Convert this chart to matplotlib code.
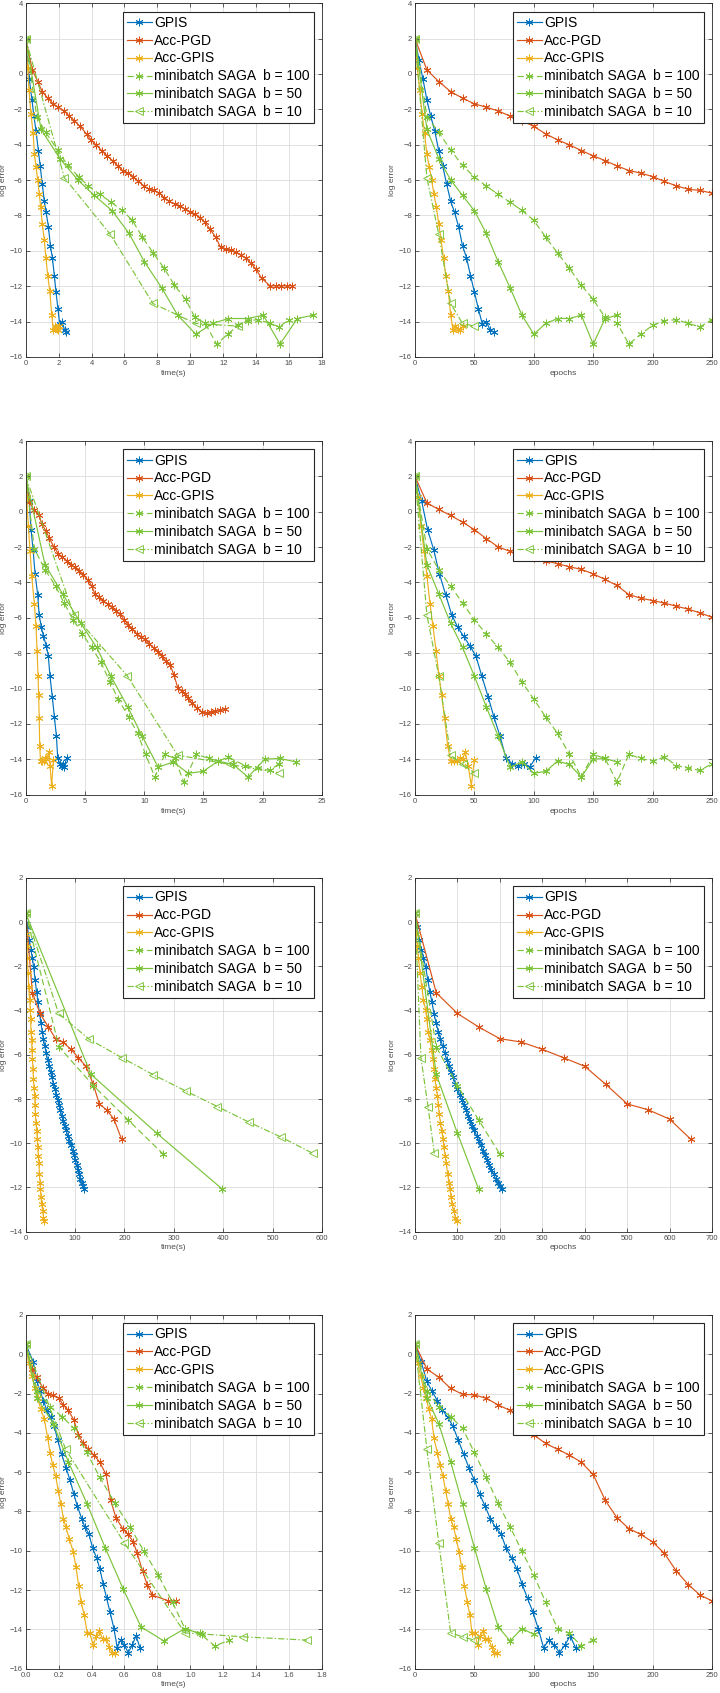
import matplotlib
matplotlib.use('Agg')
import matplotlib.pyplot as plt

plt.rcParams['font.family'] = ['Liberation Sans', 'DejaVu Sans']
plt.rcParams['lines.scale_dashes'] = False

C_GPIS = '#0072BD'
C_PGD = '#D95319'
C_AGPIS = '#EDB120'
C_SAGA = '#7CC43A'

LABELS = ['GPIS', 'Acc-PGD', 'Acc-GPIS', 'minibatch SAGA  b = 100',
          'minibatch SAGA  b = 50', 'minibatch SAGA  b = 10']

# ---------------- problem a (row 1) ----------------
a_gpis_t = [0, 0.1, 0.22, 0.38, 0.5, 0.63, 0.77, 0.88, 1.01, 1.13, 1.24, 1.38, 1.5, 1.62, 1.74, 1.84, 1.96, 2.06, 2.2, 2.37, 2.45]
a_gpis_ep = [0, 3.3, 6.7, 10, 13.3, 16.7, 20, 23.3, 26.7, 30, 33.3, 36.7, 40, 43.3, 46.7, 50, 53.3, 56.7, 60, 63.3, 66.7]
a_gpis_y = [2.0, 0.8, -0.3, -1.47, -2.4, -3.25, -4.35, -5.2, -6.25, -7.2, -7.83, -8.64, -9.72, -10.38, -11.4, -12.34, -13.28, -14.15, -14.0, -14.5, -14.6]

a_pgd_t = [0, 0.4, 0.73, 1.01, 1.34, 1.68, 1.98, 2.33, 2.65, 2.96, 3.3, 3.7, 3.97, 4.27, 4.62, 4.94, 5.28, 5.59, 5.89, 6.23,
           6.54, 6.84, 7.19, 7.49, 7.81, 8.12, 8.42, 8.72, 9.07, 9.37, 9.68, 9.98, 10.28, 10.59, 10.89, 11.19, 11.54, 11.84, 12.15, 12.45,
           12.77, 13.08, 13.38, 13.68, 13.99, 14.33, 14.84, 15.18, 15.5, 15.85, 16.17]
a_pgd_y = [2.0, 0.23, -0.43, -1.0, -1.37, -1.69, -1.88, -2.09, -2.38, -2.64, -2.97, -3.39, -3.73, -4.01, -4.33, -4.63, -4.9, -5.2, -5.46, -5.61,
           -5.8, -6.08, -6.33, -6.52, -6.59, -6.74, -6.99, -7.21, -7.35, -7.46, -7.63, -7.78, -7.93, -8.12, -8.4, -8.76, -9.23, -9.8, -9.9, -9.98,
           -10.08, -10.23, -10.42, -10.7, -11.04, -11.55, -11.98, -11.98, -11.98, -11.98, -11.98]
a_pgd_ep = [0, 10, 20, 30, 40, 50, 60, 70, 80, 90, 100, 110, 120, 130, 140, 150, 160, 170, 180, 190, 200, 210, 220, 230, 240, 250]

a_agpis_t = [0, 0.12, 0.2, 0.32, 0.45, 0.53, 0.63, 0.73, 0.83, 0.91, 1.01, 1.13, 1.23, 1.34, 1.46, 1.58, 1.68, 1.78, 1.88, 1.96, 2.04]
a_agpis_ep = [0, 2, 4, 6, 8, 10, 12, 14, 16, 18, 20, 22, 24, 26, 28, 30, 32, 34, 36, 38, 40]
a_agpis_y = [2.0, 0.32, -0.9, -2.28, -3.32, -4.55, -5.25, -6.02, -6.81, -7.55, -8.49, -9.4, -10.43, -11.43, -12.25, -13.62, -14.5, -14.26, -14.4, -14.5, -14.26]

a_s100_t = [0, 0.67, 1.21, 1.94, 2.55, 3.24, 3.81, 4.51, 5.18, 5.87, 6.48, 7.09, 7.75, 8.42, 9.03, 9.72, 10.28, 10.89, 11.6, 12.27, 12.92, 13.48, 14.13, 14.84, 15.4, 16.0]
a_s100_ep = [0, 10, 20, 30, 40, 50, 60, 70, 80, 90, 100, 110, 120, 130, 140, 150, 160, 170, 180, 190, 200, 210, 220, 230, 240, 250]
a_s100_y = [2.0, -2.41, -3.3, -4.3, -5.17, -5.83, -6.34, -6.81, -7.25, -7.72, -8.28, -9.23, -10.13, -11.0, -11.94, -12.75, -13.77, -14.08, -15.28, -14.72, -14.21, -13.96, -13.89, -14.11, -14.3, -13.89]

a_s50_t = [0, 0.93, 2.08, 3.16, 4.17, 5.26, 6.28, 7.21, 8.26, 9.23, 10.34, 11.36, 12.31, 13.48, 14.43, 15.45, 16.5, 17.47]
a_s50_ep = [0, 10, 20, 30, 40, 50, 60, 70, 80, 90, 100, 110, 120, 130, 140, 150, 160, 170]
a_s50_y = [2.0, -3.13, -4.79, -5.99, -6.87, -7.74, -9.02, -10.62, -12.09, -13.64, -14.72, -14.11, -13.83, -13.83, -13.64, -15.28, -13.83, -13.64]

a_s10_t = [0, 2.35, 5.14, 7.73, 10.32, 12.9]
a_s10_ep = [0, 10, 20, 30, 40, 50]
a_s10_y = [2.0, -5.87, -9.07, -12.98, -14.11, -14.26]

# ---------------- problem b (row 2) ----------------
b_gpis_t = [0, 0.3, 0.45, 0.62, 0.79, 1.01, 1.13, 1.32, 1.5, 1.74, 1.91, 2.05, 2.25, 2.42, 2.59, 2.7, 2.87, 3.04, 3.15, 3.26, 3.46]
b_gpis_ep = [0, 5.6, 10.6, 15.7, 20.5, 25.8, 30.8, 35.9, 40.9, 46.2, 51.3, 56.3, 61.7, 66.4, 71.5, 76.5, 81.6, 86.6, 91.6, 96.7, 101.7]
b_gpis_y = [2.0, 0.6, -1.01, -2.14, -3.5, -4.69, -5.81, -6.53, -7.04, -7.59, -8.16, -9.31, -10.5, -11.6, -12.68, -13.91, -14.24, -14.39, -14.24, -14.42, -13.91]

b_pgd_t = [0, 0.28, 0.73, 1.13, 1.35, 1.69, 1.97, 2.36, 2.76, 3.09, 3.46, 3.8, 4.16, 4.5, 4.87, 5.23, 5.57, 5.85, 6.19, 6.55,
           6.92, 7.26, 7.6, 7.96, 8.33, 8.66, 9.0, 9.37, 9.73, 10.07, 10.41, 10.86, 11.14, 11.48, 11.81, 12.18, 12.52, 12.83, 13.16, 13.45,
           13.73, 14.01, 14.43, 14.85, 15.27, 15.64, 16.0, 16.38, 16.8]
b_pgd_y = [2.0, 0.55, 0.08, -0.2, -0.68, -1.06, -1.47, -1.97, -2.38, -2.57, -2.76, -2.99, -3.14, -3.33, -3.56, -3.86, -4.18, -4.66, -4.84, -5.03,
           -5.22, -5.41, -5.6, -5.79, -6.13, -6.4, -6.64, -6.89, -7.08, -7.21, -7.46, -7.72, -7.91, -8.16, -8.44, -8.67, -9.24, -9.96, -10.14, -10.33,
           -10.56, -10.81, -11.09, -11.32, -11.39, -11.32, -11.25, -11.19, -11.14]
b_pgd_ep = [0, 10, 20, 30, 40, 50, 60, 70, 80, 90, 100, 110, 120, 130, 140, 150, 160, 170, 180, 190, 200, 210, 220, 230, 240, 250]
b_pgd_ep_y = [2.0, 0.5, 0.13, -0.21, -0.59, -1.01, -1.52, -1.99, -2.24, -2.47, -2.62, -2.77, -2.94, -3.11, -3.26, -3.51, -3.83, -4.17, -4.68, -4.89,
              -5.02, -5.17, -5.34, -5.51, -5.72, -5.97]

b_agpis_t = [0, 0.08, 0.22, 0.37, 0.51, 0.73, 0.87, 0.96, 1.04, 1.09, 1.14, 1.18, 1.25, 1.4, 1.55, 1.65, 1.75, 1.97, 2.05, 2.19, 2.33]
b_agpis_ep = [0, 2.5, 5, 7.6, 10.1, 12.6, 15.1, 17.7, 20.2, 22.4, 24.9, 27.5, 30, 32.5, 35, 37.6, 40, 42.3, 44.8, 47.4, 49.9]
b_agpis_y = [2.0, 0.81, -0.78, -2.24, -3.66, -5.19, -6.46, -7.86, -9.28, -10.37, -11.68, -13.25, -14.07, -14.07, -14.07, -13.95, -14.0, -13.59, -14.39, -15.49, -14.05]

b_s100_t = [0, 0.73, 1.63, 2.53, 3.23, 4.02, 4.78, 5.56, 6.35, 7.1, 7.81, 8.69, 9.44, 10.11, 10.9, 11.74, 12.58, 13.34, 14.41, 15.48, 16.24, 17.1, 18.48, 19.6, 20.6, 21.4]
b_s100_ep = [0, 10, 20, 30, 40, 50, 60, 70, 80, 90, 100, 110, 120, 130, 140, 150, 160, 170, 180, 190, 200, 210, 220, 230, 240, 250]
b_s100_y = [2.0, -2.09, -3.28, -4.21, -5.15, -6.12, -6.91, -7.67, -8.52, -9.62, -10.6, -11.61, -12.53, -13.72, -15.0, -13.72, -13.95, -15.29, -13.72, -13.95, -14.1, -13.87, -14.35, -14.5, -14.63, -14.24]

b_s50_t = [0, 1.63, 3.12, 4.66, 5.98, 7.19, 8.6, 9.83, 11.18, 12.44, 13.71, 14.97, 16.24, 17.5, 18.76, 20.17, 21.43, 22.84]
b_s50_ep = [0, 10, 20, 30, 40, 50, 60, 70, 80, 90, 100, 110, 120, 130, 140, 150, 160, 170]
b_s50_y = [2.0, -3.0, -4.65, -6.31, -7.67, -9.3, -11.03, -12.69, -14.45, -14.15, -14.79, -14.68, -14.1, -14.29, -15.0, -13.99, -13.95, -14.15]

b_s10_t = [0, 4.07, 8.57, 12.81, 17.22, 21.38]
b_s10_ep = [0, 10, 20, 30, 40, 50]
b_s10_y = [2.0, -5.83, -9.28, -13.76, -14.29, -14.76]

# ---------------- problem c (row 3) ----------------
c_gpis_t = [0, 3.5, 7.4, 10.5, 13.5, 16, 19, 22, 25, 28, 31, 33.5, 36, 38.5, 41.5, 44.5, 47.5, 50.5, 53, 56, 59,
            62, 64.5, 67, 70, 73, 76, 79, 82, 85, 88.5, 92, 95, 98, 100.5, 103, 105.5, 108, 110.5, 113, 116, 118.7]
c_gpis_ep = [0, 5, 10, 15, 20, 25, 30, 35, 40, 45, 50, 55, 60, 65, 70, 75, 80, 85, 90, 95, 100,
             105, 110, 115, 120, 125, 130, 135, 140, 145, 150, 155, 160, 165, 170, 175, 180, 185, 190, 195, 200, 205]
c_gpis_y = [0.41, -0.23, -0.8, -1.25, -1.62, -2.02, -2.6, -3.15, -3.62, -4.16, -4.58, -4.96, -5.3, -5.6, -5.93, -6.22, -6.5, -6.78, -7.02, -7.3, -7.55,
            -7.8, -8.03, -8.25, -8.5, -8.75, -8.98, -9.2, -9.42, -9.65, -9.88, -10.1, -10.33, -10.55, -10.78, -11.0, -11.22, -11.4, -11.6, -11.78, -11.93, -12.05]

c_pgd_t = [0, 13.5, 29, 45.8, 60.7, 74.8, 91.7, 106.5, 122, 136.9, 149, 163.8, 178.7, 194.2]
c_pgd_ep = [0, 50, 100, 150, 200, 250, 300, 350, 400, 450, 500, 550, 600, 650]
c_pgd_y = [0.41, -3.19, -4.13, -4.74, -5.27, -5.42, -5.75, -6.13, -6.52, -7.34, -8.22, -8.49, -8.91, -9.82]

c_agpis_t = [0, 1.3, 2, 3.4, 4.7, 6, 8, 9.4, 10, 10.8, 12.1, 12.8, 13.5, 14.8, 15.5, 16.9, 18.2, 18.9, 19.6, 20.9,
             22.2, 23.6, 24.3, 25.6, 27, 27.6, 29, 29.7, 31, 32.4, 34.5, 36, 37.8]
c_agpis_ep = [0, 2, 5, 8, 12, 16, 20, 25, 28, 31, 36, 39, 42, 45, 47, 50, 53, 55, 57, 60,
              63, 66, 68, 71, 74, 77, 80, 82, 85, 87, 92, 95, 98]
c_agpis_y = [0.41, -0.53, -1.07, -1.6, -2.31, -2.92, -3.53, -3.95, -4.4, -4.96, -5.34, -5.8, -6.17, -6.63, -7.11, -7.49, -7.88, -8.29, -8.67, -9.1,
             -9.43, -9.81, -10.19, -10.56, -10.91, -11.4, -11.78, -12.05, -12.43, -12.76, -13.06, -13.36, -13.52]

c_s100_t = [0, 67.4, 136.9, 207.6, 278.4]
c_s100_ep = [0, 50, 100, 150, 200]
c_s100_y = [0.41, -5.64, -7.39, -8.95, -10.49]

c_s50_t = [0, 132, 265.6, 398.4]
c_s50_ep = [0, 50, 100, 150]
c_s50_y = [0.41, -6.88, -9.55, -12.08]

c_s10_t = [0, 66.7, 128.8, 194.8, 258.2, 324.3, 388.3, 452.4, 517.8, 581.8]
c_s10_y = [0.41, -4.13, -5.3, -6.13, -6.9, -7.64, -8.34, -9.05, -9.73, -10.46]
c_s10_ep = [0, 14, 30.6, 45.5]
c_s10_ep_y = [0.41, -6.13, -8.34, -10.46]

# ---------------- problem d (row 4) ----------------
d_gpis_t = [0, 0.047, 0.067, 0.087, 0.107, 0.127, 0.152, 0.174, 0.194, 0.218, 0.245, 0.269, 0.293, 0.313, 0.34, 0.36,
            0.384, 0.407, 0.431, 0.451, 0.471, 0.492, 0.512, 0.536, 0.556, 0.576, 0.599, 0.623, 0.647, 0.67, 0.694]
d_gpis_ep = [0, 5.3, 9.8, 14, 18.8, 23, 27.5, 32, 36.4, 40.9, 45.4, 49.9, 54.4, 58.9, 63.3, 67.8,
             72.3, 76.8, 81.3, 85.8, 90.2, 94.7, 99.2, 103.7, 108.2, 112.7, 117.2, 121.6, 126.1, 130.6, 135.1]
d_gpis_y = [0.52, -0.41, -1.36, -1.85, -2.36, -2.82, -3.21, -3.67, -4.37, -5.08, -5.78, -6.4, -7.13, -7.71, -8.36, -8.81,
            -9.14, -9.88, -10.36, -10.94, -11.7, -12.43, -13.11, -13.96, -14.93, -14.55, -14.81, -15.18, -14.81, -14.33, -14.93]

d_pgd_t = [0, 0.036, 0.067, 0.107, 0.138, 0.168, 0.2, 0.229, 0.259, 0.293, 0.32, 0.35, 0.38, 0.415,
           0.45, 0.488, 0.516, 0.548, 0.589, 0.623, 0.653, 0.678, 0.71, 0.738, 0.77, 0.866, 0.916]
d_pgd_ep = [0, 10, 20, 30, 40, 50, 60, 70, 80, 90, 100, 110, 120, 130,
            140, 150, 160, 170, 180, 190, 200, 210, 220, 230, 240, 250, 260]
d_pgd_y = [0.52, -0.75, -1.17, -1.74, -2.04, -2.07, -2.24, -2.58, -2.86, -3.35, -4.11, -4.54, -4.84, -5.13,
           -5.5, -6.12, -7.42, -8.32, -8.87, -9.17, -9.55, -10.14, -11.04, -11.72, -12.26, -12.55, -12.55]

d_agpis_t = [0, 0.018, 0.037, 0.055, 0.073, 0.092, 0.113, 0.134, 0.148, 0.164, 0.182, 0.198, 0.214, 0.229, 0.245, 0.265,
             0.289, 0.305, 0.322, 0.336, 0.356, 0.374, 0.39, 0.41, 0.43, 0.447, 0.467, 0.487, 0.508, 0.526, 0.542]
d_agpis_ep = [0, 2.3, 4.7, 7, 9.3, 11.7, 14, 16, 18.8, 21, 23.5, 25.8, 28, 30, 32.5, 34.8,
              37, 39.2, 41.5, 44, 46.2, 48, 50.4, 52.7, 54.7, 57.5, 59.1, 61.7, 64.5, 66.7, 69.2]
d_agpis_y = [0.52, -0.45, -1.1, -1.7, -2.25, -2.8, -3.31, -4.28, -5.01, -5.64, -6.2, -6.96, -7.64, -8.36, -8.81, -9.41,
             -10.05, -10.82, -11.79, -12.6, -13.28, -14.21, -14.21, -14.81, -14.33, -14.09, -14.47, -14.47, -14.89, -15.18, -15.18]

d_s100_t = [0, 0.07, 0.148, 0.222, 0.293, 0.37, 0.451, 0.542, 0.633, 0.718, 0.805, 0.892, 0.967, 1.058, 1.149, 1.236]
d_s100_ep = [0, 10, 20, 30, 40, 50, 60, 70, 80, 90, 100, 110, 120, 130, 140, 150]
d_s100_y = [0.52, -1.85, -2.67, -3.18, -3.77, -5.0, -6.27, -7.59, -8.78, -10.02, -11.24, -12.63, -13.96, -14.21, -14.85, -14.55]

d_s50_t = [0, 0.067, 0.168, 0.259, 0.374, 0.483, 0.593, 0.7, 0.839, 0.967, 1.074]
d_s50_ep = [0, 10, 20, 30, 40, 50, 60, 70, 80, 90, 100]
d_s50_y = [0.52, -2.21, -3.53, -5.47, -7.64, -9.85, -11.96, -13.87, -14.59, -13.96, -14.26]

d_s10_t = [0, 0.243, 0.599, 0.967, 1.321, 1.709]
d_s10_ep = [0, 10, 20, 30, 40, 50]
d_s10_y = [0.52, -4.84, -9.6, -14.18, -14.38, -14.55]

AST = (6, 2, 0)   # asterisk marker like matlab '*'


def draw(ax, curves, xlim, xticks, ylim, yticks, xlabel):
    styles = [
        dict(color=C_GPIS, ls='-', marker=AST),
        dict(color=C_PGD, ls='-', marker=AST),
        dict(color=C_AGPIS, ls='-', marker=AST),
        dict(color=C_SAGA, ls=(0, (4.5, 2.5)), marker=AST),
        dict(color=C_SAGA, ls='-', marker=AST),
        dict(color=C_SAGA, ls=(0, (4.5, 1.5, 1, 1.5)), marker='<', mfc='none'),
    ]
    for (x, y), st, lab in zip(curves, styles, LABELS):
        n = min(len(x), len(y))
        ax.plot(x[:n], y[:n], lw=0.85, ms=5.5, mew=0.65, label=lab, **st)
    ax.set_xlim(*xlim)
    ax.set_ylim(*ylim)
    ax.set_xticks(xticks)
    ax.set_yticks(yticks)
    ax.grid(True, color='#DCDCDC', lw=0.6)
    ax.set_axisbelow(True)
    ax.tick_params(direction='in', top=True, right=True, length=3, width=0.5, pad=2.2,
                   labelsize=5.5, labelcolor='#4D4D4D', color='#262626')
    for s in ax.spines.values():
        s.set_color('#262626')
        s.set_linewidth(0.6)
    ax.set_xlabel(xlabel, fontsize=6, color='#4D4D4D', labelpad=2)
    ax.set_ylabel('log error', fontsize=6, color='#4D4D4D', labelpad=2)
    leg = ax.legend(loc='upper right', fontsize=10, fancybox=False, framealpha=1,
                    edgecolor='#262626', borderpad=0.3, labelspacing=0.28,
                    handlelength=1.8, handletextpad=0.15, borderaxespad=0.6)
    leg.get_frame().set_linewidth(0.8)


fig = plt.figure(figsize=(7.2, 16.93), dpi=100)
H = 0.2089
rows = [0.7892, 0.5306, 0.2725, 0.0144]
LX, LW = 0.0357, 0.4115
RX, RW = 0.5764, 0.4125

ep250 = [0, 50, 100, 150, 200, 250]
y_a = list(range(-16, 5, 2))
y_c = list(range(-14, 3, 2))
y_d = list(range(-16, 3, 2))

ax = fig.add_axes([LX, rows[0], LW, H])
draw(ax, [(a_gpis_t, a_gpis_y), (a_pgd_t, a_pgd_y), (a_agpis_t, a_agpis_y),
          (a_s100_t, a_s100_y), (a_s50_t, a_s50_y), (a_s10_t, a_s10_y)],
     (0, 18), list(range(0, 19, 2)), (-16, 4), y_a, 'time(s)')
ax = fig.add_axes([RX, rows[0], RW, H])
draw(ax, [(a_gpis_ep, a_gpis_y), (a_pgd_ep, a_pgd_y), (a_agpis_ep, a_agpis_y),
          (a_s100_ep, a_s100_y), (a_s50_ep, a_s50_y), (a_s10_ep, a_s10_y)],
     (0, 250), ep250, (-16, 4), y_a, 'epochs')

ax = fig.add_axes([LX, rows[1], LW, H])
draw(ax, [(b_gpis_t, b_gpis_y), (b_pgd_t, b_pgd_y), (b_agpis_t, b_agpis_y),
          (b_s100_t, b_s100_y), (b_s50_t, b_s50_y), (b_s10_t, b_s10_y)],
     (0, 25), [0, 5, 10, 15, 20, 25], (-16, 4), y_a, 'time(s)')
ax = fig.add_axes([RX, rows[1], RW, H])
draw(ax, [(b_gpis_ep, b_gpis_y), (b_pgd_ep, b_pgd_ep_y), (b_agpis_ep, b_agpis_y),
          (b_s100_ep, b_s100_y), (b_s50_ep, b_s50_y), (b_s10_ep, b_s10_y)],
     (0, 250), ep250, (-16, 4), y_a, 'epochs')

ax = fig.add_axes([LX, rows[2], LW, H])
draw(ax, [(c_gpis_t, c_gpis_y), (c_pgd_t, c_pgd_y), (c_agpis_t, c_agpis_y),
          (c_s100_t, c_s100_y), (c_s50_t, c_s50_y), (c_s10_t, c_s10_y)],
     (0, 600), list(range(0, 601, 100)), (-14, 2), y_c, 'time(s)')
ax = fig.add_axes([RX, rows[2], RW, H])
draw(ax, [(c_gpis_ep, c_gpis_y), (c_pgd_ep, c_pgd_y), (c_agpis_ep, c_agpis_y),
          (c_s100_ep, c_s100_y), (c_s50_ep, c_s50_y), (c_s10_ep, c_s10_ep_y)],
     (0, 700), list(range(0, 701, 100)), (-14, 2), y_c, 'epochs')

ax = fig.add_axes([LX, rows[3], LW, H])
draw(ax, [(d_gpis_t, d_gpis_y), (d_pgd_t, d_pgd_y), (d_agpis_t, d_agpis_y),
          (d_s100_t, d_s100_y), (d_s50_t, d_s50_y), (d_s10_t, d_s10_y)],
     (0, 1.8), [0, 0.2, 0.4, 0.6, 0.8, 1, 1.2, 1.4, 1.6, 1.8], (-16, 2), y_d, 'time(s)')
ax = fig.add_axes([RX, rows[3], RW, H])
draw(ax, [(d_gpis_ep, d_gpis_y), (d_pgd_ep, d_pgd_y), (d_agpis_ep, d_agpis_y),
          (d_s100_ep, d_s100_y), (d_s50_ep, d_s50_y), (d_s10_ep, d_s10_y)],
     (0, 250), ep250, (-16, 2), y_d, 'epochs')

fig.savefig('out.png', dpi=100)
